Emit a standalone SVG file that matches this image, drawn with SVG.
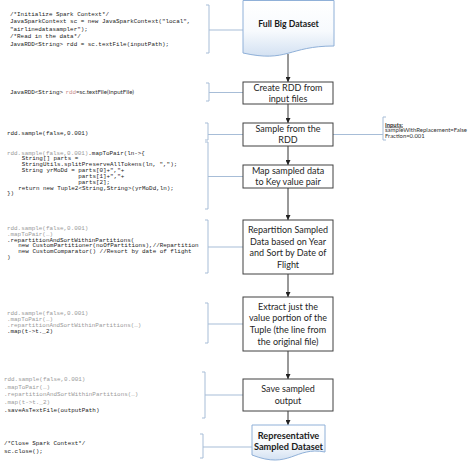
<svg xmlns="http://www.w3.org/2000/svg" width="474" height="469" viewBox="0 0 474 469">
<defs>
<linearGradient id="docg" x1="0" y1="0" x2="0" y2="1">
<stop offset="0" stop-color="#FFFFFF"/>
<stop offset="0.55" stop-color="#F7FAFD"/>
<stop offset="1" stop-color="#D3E1F2"/>
</linearGradient>
<marker id="ah" viewBox="0 0 6 6" refX="6" refY="3" markerWidth="5" markerHeight="5" markerUnits="userSpaceOnUse" orient="auto">
<path d="M0,0 L6,3 L0,6 Z" fill="#222"/>
</marker>
<style>
.box{fill:#fff;stroke:#404040;stroke-width:1}
.doc{fill:url(#docg);stroke:#8FB0D8;stroke-width:1}
.nt{font-family:Lato,"Liberation Sans",sans-serif;font-size:9px;fill:#262626;text-anchor:middle}
.dt{font-family:Lato,"Liberation Sans",sans-serif;font-size:8.7px;font-weight:bold;fill:#1a1a1a;text-anchor:middle}
.code{font-family:"Liberation Mono","DejaVu Sans Mono",monospace;font-size:5.9px;fill:#222}
.g{fill:#9a9a9a}
.arrow{stroke:#333;stroke-width:1;fill:none;marker-end:url(#ah)}
.br{stroke:#A7BDD7;stroke-width:1;fill:none}
.inp{font-family:Lato,"Liberation Sans",sans-serif;font-size:5.9px;fill:#333}
</style>
</defs>
<rect width="474" height="469" fill="#fff"/>

<g id="connectors">
<line class="arrow" x1="288" y1="54" x2="288" y2="82"/>
<line class="arrow" x1="288" y1="104" x2="288" y2="123"/>
<line class="arrow" x1="288" y1="146" x2="288" y2="165"/>
<line class="arrow" x1="288" y1="188" x2="288" y2="220"/>
<line class="arrow" x1="288" y1="274" x2="288" y2="297"/>
<line class="arrow" x1="288" y1="351" x2="288" y2="379"/>
<line class="arrow" x1="288" y1="411" x2="288" y2="425"/>
<path class="br" d="M206,5 H209 V53 H206 M209,30 H243"/>
<path class="br" d="M206,83 H209 V101 H206 M209,92.5 H243"/>
<path class="br" d="M205,123 H208 V140 H205 M208,134.5 H243"/>
<path class="br" d="M205,142 H208 V209 H205 M208,176.5 H243"/>
<path class="br" d="M205,220 H208 V273 H205 M208,247 H243"/>
<path class="br" d="M205,303 H208 V343 H205 M208,324 H243"/>
<path class="br" d="M202,372 H205 V418 H202 M205,395 H243"/>
<path class="br" d="M200,434 H203 V458 H200 M203,447 H252"/>
<path class="br" d="M386,117 H383 V140 H386 M333,134.5 H383"/>
</g>

<g id="full-big-dataset">
<path class="doc" d="M243,0.5 H334 V46 C288,46 288,63 243,53 Z"/>
<text class="dt" x="288.5" y="27">Full Big Dataset</text>
</g>

<g id="create-rdd">
<rect class="box" x="243" y="82" width="90" height="22"/>
<text class="nt" x="288" y="90.5">Create RDD from</text>
<text class="nt" x="288" y="102">input files</text>
</g>

<g id="sample-rdd">
<rect class="box" x="243" y="123" width="90" height="23"/>
<text class="nt" x="288" y="131.5">Sample from the</text>
<text class="nt" x="288" y="143">RDD</text>
</g>

<g id="map-kv">
<rect class="box" x="243" y="165" width="90" height="23"/>
<text class="nt" x="288" y="173.7">Map sampled data</text>
<text class="nt" x="288" y="185.3">to Key value pair</text>
</g>

<g id="repartition">
<rect class="box" x="243" y="220" width="90" height="54"/>
<text class="nt" x="288" y="233">Repartition Sampled</text>
<text class="nt" x="288" y="244.7">Data based on Year</text>
<text class="nt" x="288" y="256.3">and Sort by Date of</text>
<text class="nt" x="288" y="268">Flight</text>
</g>

<g id="extract-value">
<rect class="box" x="243" y="297" width="90" height="54"/>
<text class="nt" x="288" y="309.7">Extract just the</text>
<text class="nt" x="288" y="321.3">value portion of the</text>
<text class="nt" x="288" y="332.8">Tuple (the line from</text>
<text class="nt" x="288" y="344.5">the original file)</text>
</g>

<g id="save-output">
<rect class="box" x="243" y="379" width="90" height="32"/>
<text class="nt" x="288" y="392.3">Save sampled</text>
<text class="nt" x="288" y="404">output</text>
</g>

<g id="representative-dataset">
<path class="doc" d="M252,425 H325 V452 C295,446 290,470 252,455 Z"/>
<text class="dt" style="font-size:9.2px" x="288.5" y="438.5">Representative</text>
<text class="dt" style="font-size:9.2px" x="288.5" y="450">Sampled Dataset</text>
</g>

<g id="inputs-note">
<text class="inp" x="385" y="126.5" font-weight="bold" text-decoration="underline">Inputs:</text>
<text class="inp" x="385" y="132" textLength="82" lengthAdjust="spacingAndGlyphs">sampleWithReplacement=False</text>
<text class="inp" x="385" y="137.5">Fraction=0.001</text>
</g>

<g id="code-init">
<text class="code" x="10" y="16">/*Initialize Spark Context*/</text>
<text class="code" x="10" y="23">JavaSparkContext sc = new JavaSparkContext("local",</text>
<text class="code" x="10" y="31">"airlinedatasampler");</text>
<text class="code" x="10" y="38">/*Read in the data*/</text>
<text class="code" x="10" y="46">JavaRDD&lt;String&gt; rdd = sc.textFile(inputPath);</text>
</g>

<g id="code-rdd">
<text class="code" x="10" y="94">JavaRDD&lt;String&gt;</text>
<text class="code" x="65.5" y="94" style="fill:#C98C8C">rdd</text>
<text x="76" y="94" font-family="Lato,'Liberation Sans',sans-serif" font-size="5.4" fill="#333" textLength="58" lengthAdjust="spacingAndGlyphs">=sc.textFile(inputFile)</text>
</g>

<g id="code-sample">
<text class="code" x="7" y="135">rdd.sample(false,0.001)</text>
</g>

<g id="code-map">
<text class="code" x="7" y="154.7"><tspan class="g">rdd.sample(false,0.001)</tspan>.mapToPair(ln-&gt;{</text>
<text class="code" x="21.7" y="160.4">String[] parts =</text>
<text class="code" x="21.7" y="166.1">StringUtils.splitPreserveAllTokens(ln, ",");</text>
<text class="code" x="21.7" y="172">String yrMoDd = parts[0]+","+</text>
<text class="code" x="78.3" y="177.8">parts[1]+","+</text>
<text class="code" x="78.3" y="183.7">parts[2];</text>
<text class="code" x="18.3" y="189.7">return new Tuple2&lt;String,String&gt;(yrMoDd,ln);</text>
<text class="code" x="7" y="195.4">})</text>
</g>

<g id="code-repartition">
<text class="code g" x="7" y="230.3">rdd.sample(false,0.001)</text>
<text class="code g" x="7" y="236">.mapToPair(…)</text>
<text class="code" x="7" y="241.5">.repartitionAndSortWithinPartitions(</text>
<text class="code" x="18.3" y="247.1">new CustomPartitioner(noOfPartitions),//Repartition</text>
<text class="code" x="18.3" y="252.8">new CustomComparator() //Resort by date of flight</text>
<text class="code" x="7" y="258.7">)</text>
</g>

<g id="code-extract">
<text class="code g" x="7" y="315.3">rdd.sample(false,0.001)</text>
<text class="code g" x="7" y="321.3">.mapToPair(…)</text>
<text class="code g" x="7" y="327">.repartitionAndSortWithinPartitions(…)</text>
<text class="code" x="7" y="333">.map(t-&gt;t._2)</text>
</g>

<g id="code-save">
<text class="code g" x="4" y="381.3">rdd.sample(false,0.001)</text>
<text class="code g" x="4" y="388.8">.mapToPair(…)</text>
<text class="code g" x="4" y="396.4">.repartitionAndSortWithinPartitions(…)</text>
<text class="code g" x="4" y="404.3">.map(t-&gt;t._2)</text>
<text class="code" x="4" y="412">.saveAsTextFile(outputPath)</text>
</g>

<g id="code-close">
<text class="code" x="4" y="445.3">/*Close Spark Context*/</text>
<text class="code" x="4" y="453">sc.close();</text>
</g>
</svg>
